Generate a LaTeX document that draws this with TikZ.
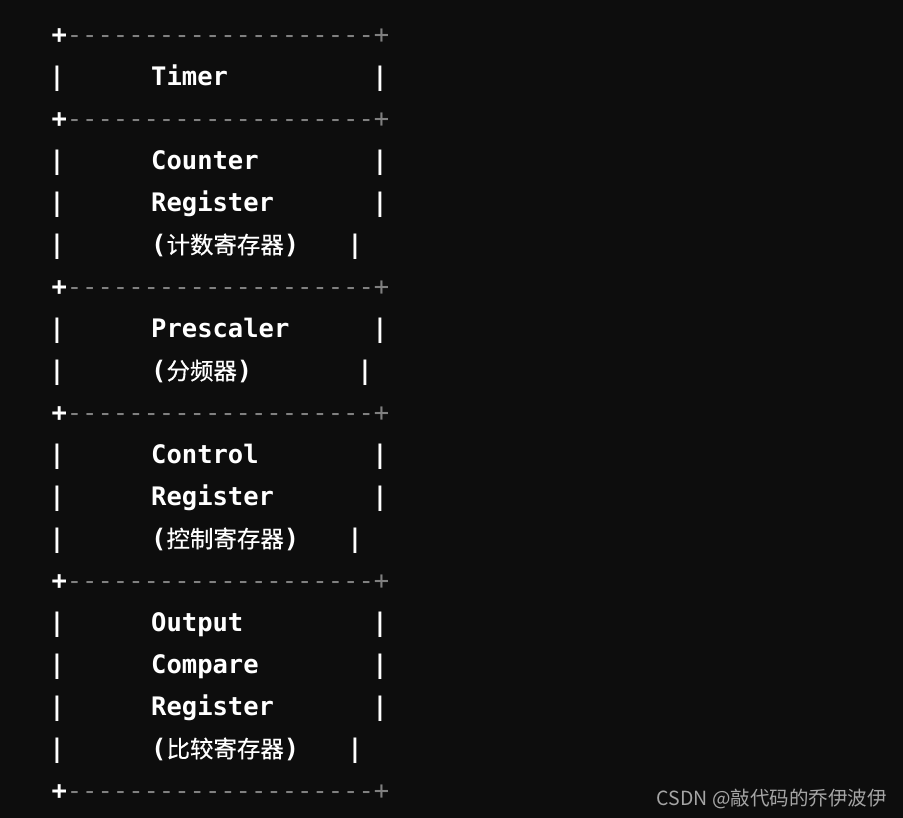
\documentclass[tikz,border=0pt]{standalone}
\usepackage{fontspec}
\setmonofont{DejaVu Sans Mono}
\newfontfamily\cjk{Noto Sans CJK SC}[Scale=0.92,FakeBold=0.4]
\newfontfamily\markfont{Noto Sans CJK SC}
\usepackage{tikz}
\usetikzlibrary{positioning}
\definecolor{termbg}{RGB}{13,13,13}
\definecolor{dashgray}{RGB}{128,128,128}
\definecolor{markgray}{RGB}{165,165,165}

\begin{document}
\begin{tikzpicture}[x=1pt,y=-1pt,
    codetext/.style={anchor=base west,inner sep=0pt,text=white,font=\ttfamily\bfseries\fontsize{25.5}{30}\selectfont},
    codebar/.style={anchor=base,inner sep=0pt,text=white,font=\ttfamily\bfseries\fontsize{25.5}{30}\selectfont}]
    % Terminal background
    \fill[termbg] (0,0) rectangle (903,818);
    \useasboundingbox (0,0) rectangle (903,818);

    % Border lines of the ASCII box
    \foreach \r in {0,2,6,9,13,18} {
        \node[codetext] (rule-\r) at (51.3,34+42*\r+9.5)
            {+{\mdseries\color{dashgray}--------------------+}};
    }

    % Rows with text: row / text / x of the right bar
    \foreach \r/\t/\bx in {1/Timer/380, 3/Counter/380, 4/Register/380,
        5/{({\mdseries\cjk 计数寄存器})}/355, 7/Prescaler/380, 8/{({\mdseries\cjk 分频器})}/365,
        10/Control/380, 11/Register/380, 12/{({\mdseries\cjk 控制寄存器})}/355,
        14/Output/380, 15/Compare/380, 16/Register/380,
        17/{({\mdseries\cjk 比较寄存器})}/355} {
        \node[codebar] (lbar-\r) at (57,34+42*\r+9.5) {|};
        \node[codetext] (text-\r) at (151,34+42*\r+9.5) {\t};
        \node[codebar] (rbar-\r) at (\bx,34+42*\r+9.5) {|};
    }

    % Watermark
    \node[anchor=base east,inner sep=0pt,text=markgray,font=\markfont\fontsize{19.5}{22}\selectfont]
        (mark) at (887,805) {CSDN @敲代码的乔伊波伊};
\end{tikzpicture}
\end{document}
